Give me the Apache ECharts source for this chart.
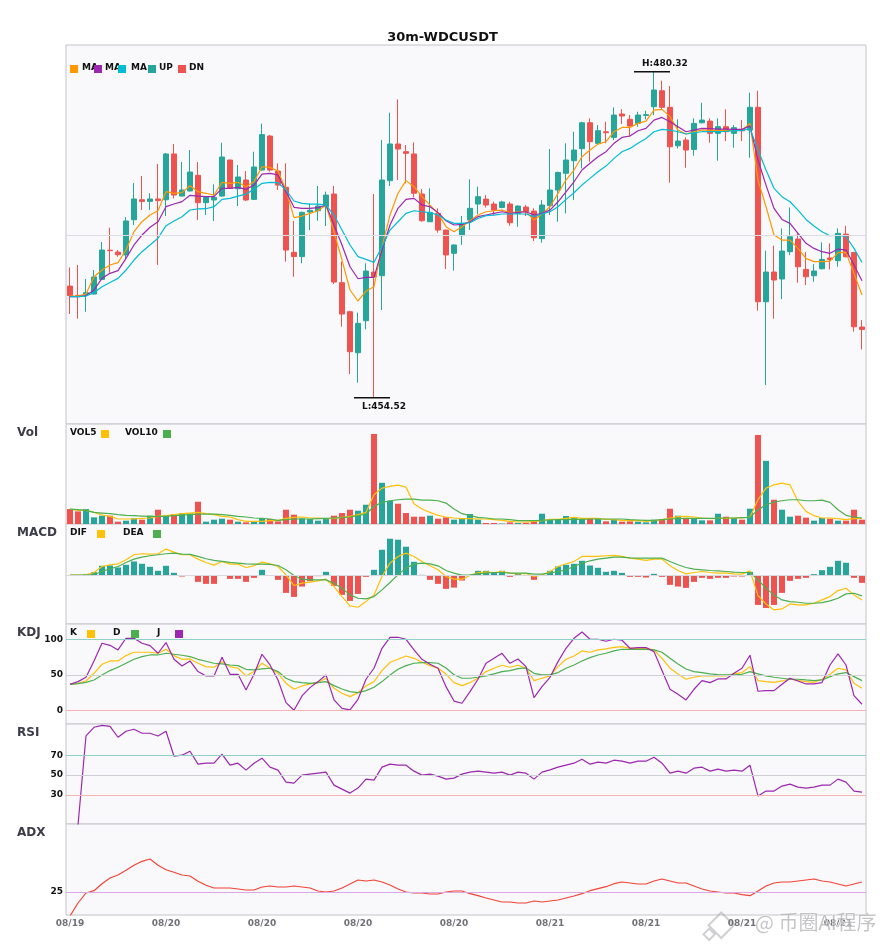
<!DOCTYPE html>
<html>
<head>
<meta charset="utf-8">
<title>30m-WDCUSDT</title>
<script src="https://cdn.jsdelivr.net/npm/echarts@6/dist/echarts.min.js"></script>
<style>
  html, body { margin: 0; padding: 0; background: #fff; }
  #main { width: 885px; height: 950px; }
</style>
</head>
<body>
<div id="main"></div>
<script>
// 30m candles, 100 bars
var open = [463.36, 462.62, 462.68, 462.73, 463.89, 466.20, 466.05, 465.82, 468.61, 470.19,
  470.06, 470.25, 470.19, 473.81, 470.48, 470.88, 472.12, 469.96, 470.17, 470.48,
  473.33, 471.06, 471.75, 470.22, 472.54, 475.23, 472.46, 471.17, 466.03, 465.69,
  469.22, 469.32, 469.64, 470.64, 463.63, 461.33, 458.09, 460.62, 464.47, 464.18,
  471.70, 474.60, 473.99, 473.81, 470.64, 468.45, 469.11, 467.79, 465.95, 467.35,
  468.58, 469.85, 470.24, 469.85, 469.58, 469.85, 469.11, 469.61, 469.29, 467.11,
  469.72, 470.96, 472.28, 473.28, 474.23, 476.28, 474.65, 475.57, 475.12, 476.97,
  476.55, 476.23, 476.86, 477.55, 478.81, 477.50, 474.46, 474.91, 474.17, 476.28,
  476.41, 475.44, 475.97, 475.44, 475.75, 475.70, 477.50, 462.12, 464.47, 463.92,
  466.08, 467.08, 464.68, 464.18, 464.73, 465.58, 465.37, 467.47, 466.02, 460.12];
var close = [462.60, 462.58, 462.84, 464.08, 466.21, 466.16, 465.84, 468.51, 470.25, 470.06,
  470.25, 470.12, 473.81, 470.56, 470.96, 472.38, 469.96, 470.38, 470.38, 473.57,
  471.09, 471.99, 470.17, 472.78, 475.34, 472.54, 471.35, 466.21, 465.69, 469.19,
  469.35, 469.69, 470.56, 463.68, 461.15, 458.17, 460.41, 464.55, 464.10, 471.75,
  474.60, 474.20, 473.86, 470.70, 468.53, 469.19, 467.79, 465.82, 466.61, 468.32,
  469.51, 470.43, 469.77, 469.37, 470.01, 468.37, 469.69, 469.24, 467.18, 469.77,
  470.96, 472.35, 473.33, 474.12, 476.28, 474.78, 475.65, 475.49, 476.89, 476.81,
  476.02, 476.89, 476.92, 478.87, 477.50, 474.38, 474.83, 474.12, 476.23, 476.49,
  475.44, 475.97, 475.57, 475.89, 475.65, 477.50, 462.12, 464.47, 463.84, 466.13,
  467.26, 464.89, 464.10, 464.55, 465.47, 465.47, 467.53, 465.68, 460.14, 459.93];
var high = [464.84, 465.03, 463.92, 464.63, 466.85, 467.98, 466.21, 468.82, 471.51, 472.07,
  470.70, 473.02, 473.89, 474.60, 473.17, 474.12, 473.17, 470.43, 471.41, 474.70,
  473.35, 472.94, 472.46, 473.99, 476.21, 475.31, 473.07, 473.07, 468.51, 469.25,
  469.90, 471.28, 470.83, 471.28, 465.29, 461.41, 461.26, 465.16, 470.64, 474.91,
  477.08, 478.13, 474.52, 474.73, 471.04, 471.09, 469.51, 467.82, 466.65, 468.90,
  471.80, 471.22, 470.56, 470.03, 470.11, 470.03, 469.74, 469.77, 469.51, 470.16,
  474.20, 472.41, 474.65, 475.57, 476.36, 476.63, 476.10, 476.36, 477.50, 477.36,
  476.89, 477.15, 477.23, 480.32, 479.61, 479.18, 476.55, 475.12, 476.63, 477.86,
  476.63, 476.63, 477.34, 476.10, 476.49, 478.66, 478.81, 466.16, 466.55, 467.92,
  469.58, 467.53, 466.05, 465.10, 466.82, 466.74, 467.92, 468.13, 466.05, 460.67];
var low = [461.15, 460.78, 461.33, 462.70, 463.85, 464.42, 465.68, 465.42, 468.19, 469.38,
  469.38, 465.03, 468.90, 470.30, 470.45, 470.85, 468.59, 468.98, 468.51, 470.45,
  471.04, 469.69, 470.09, 470.17, 472.49, 472.41, 470.96, 465.29, 464.10, 465.16,
  467.79, 468.53, 468.11, 463.52, 460.15, 456.40, 455.72, 459.94, 454.52, 461.47,
  471.28, 471.75, 471.49, 470.38, 468.45, 468.43, 467.58, 464.71, 464.58, 466.61,
  467.79, 469.06, 469.58, 468.98, 469.51, 468.13, 468.05, 468.90, 466.92, 466.79,
  468.98, 468.45, 469.11, 470.16, 472.67, 473.20, 474.52, 474.65, 474.91, 476.18,
  475.17, 475.97, 476.55, 476.89, 477.28, 471.54, 474.25, 472.72, 473.67, 476.23,
  474.70, 473.28, 474.83, 474.30, 474.83, 473.51, 461.41, 455.53, 460.78, 462.33,
  465.81, 463.63, 463.44, 463.70, 464.68, 464.68, 464.89, 465.63, 459.75, 458.35];

var maFast = [462.57, 462.57, 462.73, 464.10, 464.63, 465.03, 465.21, 466.21, 467.66, 468.45,
  468.98, 469.32, 470.83, 470.70, 470.75, 471.30, 470.83, 470.70, 470.56, 471.57,
  471.49, 471.57, 471.22, 471.62, 472.80, 472.75, 472.46, 470.96, 468.77, 468.90,
  469.11, 469.32, 469.77, 467.66, 465.42, 463.05, 462.18, 462.97, 463.31, 466.48,
  468.98, 470.70, 471.70, 471.22, 470.43, 469.77, 469.11, 468.06, 467.66, 468.06,
  468.53, 468.98, 469.24, 469.32, 469.37, 469.16, 469.24, 469.24, 468.58, 469.06,
  469.64, 470.69, 471.75, 472.54, 473.59, 474.12, 474.59, 474.78, 475.57, 475.91,
  475.91, 476.23, 476.41, 477.28, 477.34, 476.76, 475.70, 475.39, 475.57, 475.70,
  475.70, 475.65, 475.70, 475.65, 475.70, 476.23, 471.75, 469.64, 467.40, 467.00,
  467.00, 466.34, 465.55, 465.29, 465.29, 465.34, 466.00, 466.02, 464.36, 462.65];
var maMid = [462.52, 462.52, 462.60, 463.05, 463.97, 464.37, 464.58, 465.55, 466.61, 467.40,
  468.01, 468.45, 469.64, 469.85, 470.04, 470.54, 470.48, 470.43, 470.43, 471.09,
  471.09, 471.17, 471.01, 471.35, 472.22, 472.28, 472.15, 470.83, 469.59, 469.51,
  469.51, 469.56, 469.77, 468.19, 466.61, 464.89, 463.94, 464.05, 464.05, 466.21,
  468.19, 469.51, 470.22, 470.30, 469.77, 469.64, 469.17, 468.53, 468.19, 468.24,
  468.45, 468.85, 468.98, 469.11, 469.24, 469.11, 469.19, 469.24, 468.98, 469.11,
  469.37, 470.03, 470.82, 471.61, 472.54, 473.07, 473.59, 473.99, 474.65, 475.12,
  475.23, 475.65, 475.83, 476.49, 476.70, 476.36, 475.97, 475.57, 475.70, 475.83,
  475.81, 475.78, 475.78, 475.76, 475.76, 476.02, 473.33, 471.35, 469.51, 468.63,
  468.32, 467.53, 466.74, 466.34, 466.08, 465.95, 466.29, 466.21, 465.02, 463.78];
var maSlow = [462.52, 462.52, 462.57, 462.84, 463.31, 463.65, 463.97, 464.63, 465.42, 466.08,
  466.61, 467.14, 468.14, 468.51, 468.85, 469.38, 469.46, 469.48, 469.64, 470.22,
  470.30, 470.48, 470.64, 471.01, 471.49, 471.57, 471.54, 470.96, 470.09, 469.90,
  469.85, 469.85, 469.77, 468.98, 467.79, 466.61, 465.69, 465.47, 465.24, 466.48,
  467.79, 468.45, 469.11, 469.32, 469.24, 469.17, 468.98, 468.59, 468.32, 468.32,
  468.37, 468.71, 468.93, 468.98, 469.06, 469.06, 469.06, 469.06, 468.85, 469.06,
  469.24, 469.64, 470.22, 470.74, 471.35, 471.88, 472.41, 472.85, 473.46, 473.99,
  474.25, 474.65, 475.04, 475.57, 475.76, 475.70, 475.57, 475.39, 475.49, 475.57,
  475.57, 475.57, 475.60, 475.65, 475.65, 475.83, 474.12, 472.54, 471.09, 470.43,
  470.03, 469.37, 468.63, 468.11, 467.66, 467.34, 467.40, 467.26, 466.34, 465.23];

var vol = [45, 38, 45, 20, 25, 25, 7, 10, 17, 13, 25, 43, 26, 30, 33, 32, 67, 7, 13, 16,
  13, 7, 5, 8, 17, 15, 8, 43, 28, 17, 15, 10, 15, 25, 33, 43, 40, 58, 271, 124,
  70, 61, 33, 22, 22, 25, 16, 20, 13, 17, 30, 13, 3, 3, 1, 5, 3, 4, 8, 31,
  15, 15, 24, 19, 15, 15, 18, 8, 13, 7, 8, 7, 5, 13, 15, 46, 25, 18, 16, 11,
  11, 31, 22, 18, 13, 46, 268, 190, 73, 43, 22, 25, 19, 10, 18, 16, 10, 10, 43, 13];
var vol5 = [45, 41, 41, 35, 27, 23, 15, 15, 15, 17, 18, 23, 25, 28, 31, 33, 35, 31, 28, 23,
  21, 13, 8, 8, 8, 10, 10, 17, 20, 21, 18, 18, 16, 17, 20, 23, 28, 35, 88, 108,
  113, 117, 111, 61, 45, 35, 26, 21, 18, 16, 16, 15, 15, 13, 11, 8, 6, 6, 8, 10,
  14, 14, 17, 20, 17, 17, 17, 14, 13, 11, 10, 10, 8, 10, 13, 18, 22, 23, 21, 18,
  16, 17, 17, 18, 18, 21, 73, 108, 118, 123, 118, 68, 38, 25, 18, 18, 16, 13, 16, 17];
var vol10 = [45, 43, 41, 35, 33, 31, 28, 26, 25, 24, 23, 23, 23, 25, 27, 28, 30, 30, 30, 28,
  26, 23, 21, 18, 17, 15, 11, 13, 15, 15, 15, 16, 17, 18, 19, 21, 25, 30, 53, 65,
  70, 73, 75, 75, 72, 72, 70, 63, 45, 31, 25, 20, 18, 15, 15, 13, 10, 10, 10, 11,
  12, 13, 13, 14, 14, 15, 15, 15, 15, 15, 13, 12, 11, 11, 13, 15, 16, 17, 17, 17,
  17, 17, 18, 18, 19, 20, 43, 58, 66, 70, 73, 73, 70, 70, 72, 65, 43, 26, 21, 18];

var dif = [0, 0, 1, 8, 26, 31, 34, 46, 61, 64, 63, 64, 78, 69, 61, 61, 48, 38, 30, 41,
  33, 33, 23, 28, 39, 34, 26, 1, -31, -24, -21, -17, -12, -34, -64, -92, -96, -79, -59, -4,
  36, 56, 66, 56, 41, 28, 16, -4, -12, -12, -1, 8, 10, 8, 11, 6, 4, 5, -4, 1,
  11, 26, 34, 41, 56, 56, 56, 58, 59, 56, 51, 48, 44, 48, 48, 28, 14, 4, 8, 11,
  8, 6, 6, 4, 3, 13, -61, -86, -104, -101, -86, -89, -89, -84, -74, -64, -46, -39, -59, -74];
var dea = [0, 0, 0, 2, 11, 19, 26, 38, 48, 54, 58, 61, 64, 66, 63, 62, 56, 49, 44, 41,
  38, 36, 34, 33, 33, 32, 29, 16, -1, -12, -14, -14, -14, -24, -39, -59, -69, -71, -64, -44,
  -22, 1, 21, 33, 36, 34, 28, 14, 6, 0, 1, 4, 6, 8, 8, 6, 6, 6, 3, 3,
  6, 11, 16, 26, 36, 43, 48, 51, 54, 54, 52, 51, 51, 51, 51, 41, 31, 23, 18, 16,
  14, 13, 11, 9, 8, 8, -14, -39, -59, -74, -79, -81, -84, -84, -82, -77, -69, -56, -54, -62];
var macdHist = [0, 0, 3, 9, 28, 29, 23, 31, 41, 34, 25, 13, 28, 7, -4, -2, -20, -26, -26, -2,
  -11, -11, -20, -8, 16, -1, -14, -53, -65, -34, -18, -3, 10, -32, -59, -77, -56, -5, 16, 76,
  109, 106, 85, 40, 1, -14, -26, -41, -37, -16, 0, 13, 13, 8, 13, -5, 4, -2, -14, 0,
  13, 26, 31, 34, 43, 29, 22, 10, 13, 7, -5, -5, -7, 4, -5, -29, -34, -38, -20, -8,
  -11, -8, -8, -4, -4, 10, -89, -98, -89, -53, -17, -11, -8, 3, 15, 25, 43, 37, -8, -23];

var kLine = [36.6, 38.0, 41.3, 52.1, 64.8, 69.5, 69.5, 77.0, 81.7, 81.7, 81.7, 80.3, 85.9, 77.0, 71.8, 72.3, 66.2, 61.5, 60.6, 68.5,
  61.5, 59.2, 48.4, 54.5, 66.2, 59.2, 52.1, 38.0, 29.6, 34.3, 37.1, 39.0, 45.1, 31.0, 23.9, 19.2, 24.9, 34.3, 40.4, 55.9,
  67.6, 71.8, 76.5, 73.2, 67.6, 62.9, 59.2, 51.0, 39.0, 34.7, 39.0, 45.1, 54.5, 59.2, 63.4, 60.6, 63.4, 59.2, 41.8, 45.1,
  48.4, 61.5, 71.8, 76.5, 83.6, 81.7, 85.0, 86.4, 88.7, 89.7, 87.3, 87.3, 87.3, 85.0, 73.2, 59.2, 51.2, 43.7, 46.5, 48.4,
  48.8, 48.4, 48.4, 51.2, 53.1, 61.5, 41.8, 40.4, 39.4, 41.3, 44.1, 41.8, 40.4, 39.4, 43.7, 50.7, 59.2, 56.8, 38.0, 31.0];
var dLine = [36.6, 37.6, 39.4, 42.7, 49.8, 55.9, 60.6, 66.2, 71.8, 75.6, 77.9, 77.9, 80.3, 78.9, 77.5, 75.6, 71.8, 69.0, 66.2, 65.3,
  63.8, 62.9, 57.7, 56.8, 58.2, 59.2, 54.5, 45.1, 40.4, 39.0, 38.0, 39.0, 40.4, 34.7, 30.0, 26.3, 24.9, 27.7, 32.4, 40.4,
  49.8, 57.7, 62.9, 66.2, 67.1, 67.1, 66.2, 59.6, 50.0, 45.1, 45.1, 46.5, 48.4, 51.2, 54.5, 55.9, 58.7, 59.6, 52.1, 49.8,
  49.8, 53.1, 59.2, 63.8, 69.5, 74.2, 77.9, 80.3, 83.6, 85.9, 85.9, 85.9, 85.9, 85.0, 81.7, 73.2, 65.3, 58.2, 54.5, 53.1,
  51.2, 50.2, 49.8, 49.8, 50.7, 54.5, 51.2, 48.4, 46.5, 45.1, 43.7, 43.7, 42.7, 41.8, 42.7, 47.4, 51.2, 53.1, 47.4, 41.8];
var jLine = [36.6, 40.4, 46.5, 69.5, 94.4, 91.5, 85.0, 101.4, 101.4, 94.4, 91.1, 80.3, 95.3, 71.8, 62.4, 69.5, 54.5, 48.4, 48.4, 74.6,
  50.7, 50.7, 28.6, 50.7, 78.9, 63.8, 42.7, 10.8, 0, 20.2, 31.9, 40.4, 49.8, 14.6, 2.8, 0.5, 15.5, 43.7, 59.2, 87.3,
  102.8, 102.8, 100, 85.0, 71.8, 64.8, 59.2, 33.3, 13.0, 9.9, 26.3, 43.7, 66.2, 73.2, 80.3, 66.2, 72.3, 61.5, 17.8, 33.3,
  46.5, 68.5, 87.3, 101.4, 110.3, 100, 100, 97.2, 100, 98.6, 87.3, 88.3, 88.3, 82.6, 55.9, 29.6, 22.5, 14.6, 29.6, 41.8,
  39.0, 44.1, 44.1, 52.1, 59.2, 77.5, 26.8, 27.7, 27.7, 36.6, 45.1, 41.3, 37.1, 37.1, 39.0, 63.8, 79.3, 63.8, 20.7, 8.5];

var rsi = [null, 0, 89.3, 98, 100, 99, 88, 94, 96, 92, 92, 89.3, 94, 69, 70, 74, 61, 62, 62, 71,
  60, 62, 55, 62, 67, 58, 55, 43, 42, 50, 51, 52, 53, 40, 36, 32, 37, 46, 45, 58,
  61, 60, 60, 54, 50, 51, 49, 46, 47, 51, 53, 54, 53, 52, 53, 50, 53, 52, 46, 53,
  55.3, 58, 60, 62, 66, 61, 63, 62, 65, 64, 62, 64, 64, 68, 62, 52, 54, 52, 57, 58,
  54, 56, 54, 55, 54, 60, 29, 34, 34, 39, 41, 38, 37, 38, 40, 40, 46, 43, 34, 33];
var adx = [1, 14, 24, 26.3, 33.3, 39, 42, 46.7, 51.7, 55.7, 58, 51.7, 47.3, 44.7, 42, 41, 35.7, 31.7, 29, 29,
  29, 28, 27, 27, 30, 31, 30, 30, 31, 30, 29, 26, 25, 26, 29, 33, 37, 36, 37, 35,
  32, 28, 25, 24, 24, 23, 23, 25, 26, 26, 23.3, 21.3, 19, 17, 15, 15, 14, 14, 16, 15,
  16, 17, 19, 21, 23.3, 26.3, 28.3, 30.3, 33.3, 35, 34, 33, 33, 36, 38, 36, 34, 34, 31, 28,
  26, 25, 24, 24, 22.3, 21.3, 26, 31, 34, 35, 35, 36, 37, 38, 36, 35, 33, 31, 33, 35];

var kdjTicks = [0, 50, 100];
var rsiTicks = [30, 50, 70];
var adxTicks = [25];

var UP = '#26A69A', DN = '#EF5350';
var YEL = '#FFC107', GRN = '#4CAF50', PUR = '#9C27B0';
var FONT = 'DejaVu Sans';

// time axis: one bar every 30 minutes
var categories = [];
var t0 = new Date(2025, 7, 19, 18, 0).getTime();
for (var i = 0; i < open.length; i++) {
  var d = new Date(t0 + i * 30 * 60000);
  var p = function (n) { return (n < 10 ? '0' : '') + n; };
  categories.push(p(d.getMonth() + 1) + '/' + p(d.getDate()) + ' ' + p(d.getHours()) + ':' + p(d.getMinutes()));
}

var panelTops = [45, 424, 524, 624, 724, 824];
var panelHeights = [379, 100, 100, 100, 100, 91];

function makeGrid(top, height) {
  return {
    left: 66, width: 800, top: top, height: height,
    show: true, backgroundColor: '#f9f9fb', borderColor: '#c4c4ca', borderWidth: 1
  };
}

function makeX(idx, showLabel) {
  return {
    type: 'category', gridIndex: idx, data: categories, boundaryGap: true,
    axisLine: { show: false }, axisTick: { show: false }, splitLine: { show: false },
    axisLabel: {
      show: showLabel, interval: 11, margin: 4,
      color: '#707078', fontSize: 9, fontWeight: 'bold', fontFamily: FONT,
      formatter: function (v) { return v.slice(0, 5); }
    }
  };
}

function makeY(idx, min, max, ticks) {
  var y = {
    type: 'value', gridIndex: idx, min: min, max: max,
    axisLine: { show: false }, axisTick: { show: false }, splitLine: { show: false },
    axisLabel: { show: false }
  };
  if (ticks) {
    y.axisLabel = {
      show: true, customValues: ticks, margin: 3,
      color: '#111', fontSize: 9, fontWeight: 'bold', fontFamily: FONT
    };
  }
  return y;
}

function line(name, data, color, xi, width) {
  return {
    name: name, type: 'line', xAxisIndex: xi, yAxisIndex: xi, data: data,
    symbol: 'none', smooth: false, clip: true,
    lineStyle: { color: color, width: width || 1.2 }, itemStyle: { color: color },
    z: 3
  };
}

function guides(list) {
  return {
    silent: true, symbol: 'none', label: { show: false },
    data: list.map(function (g) {
      return { yAxis: g[0], lineStyle: { color: g[1], width: 1, type: 'solid' } };
    })
  };
}

var candleData = open.map(function (o, i) { return [o, close[i], low[i], high[i]]; });
var volData = vol.map(function (v, i) {
  return { value: v, itemStyle: { color: close[i] >= open[i] ? UP : DN } };
});
var histData = macdHist.map(function (v) {
  return { value: v, itemStyle: { color: v >= 0 ? UP : DN } };
});

var maLine1 = line('MA5', maFast, '#FF9800', 0);
maLine1.markLine = guides([[467.4, '#dcdce4']]);
var macdDif = line('DIF', dif, YEL, 2);
macdDif.markLine = guides([[0, '#d8d8de']]);
var kLineS = line('K', kLine, YEL, 3);
kLineS.markLine = guides([[100, '#8fd0c8'], [50, '#cfcfd6'], [0, '#f5b3b3']]);
var rsiS = line('RSI', rsi, PUR, 4);
rsiS.markLine = guides([[70, '#8fd0c8'], [50, '#cfcfd6'], [30, '#f5b3b3']]);
var adxS = line('ADX', adx, '#F44336', 5);
adxS.markLine = guides([[25, '#dba8e4']]);

function legendItems(y, items) {
  var out = [];
  items.forEach(function (it) {
    if (it.text) {
      out.push({ type: 'text', left: it.x, top: y - 6, z: 10,
        style: { text: it.text, fill: '#111', font: 'bold 9px ' + FONT } });
    }
    if (it.color) {
      out.push({ type: 'rect', left: it.sq, top: y - 4, z: 11,
        shape: { width: 8, height: 8 }, style: { fill: it.color } });
    }
  });
  return out;
}

function panelLabel(text, y) {
  return { type: 'text', left: 17, top: y - 8, z: 10,
    style: { text: text, fill: '#3c3c4a', font: 'bold 12px ' + FONT } };
}

// watermark logo: small diamond outline
var wmark = {
  type: 'group', left: 700, top: 909, z: 20,
  children: [
    { type: 'rect', x: 13, y: 0, rotation: Math.PI / 4, origin: [13, 0],
      shape: { width: 18, height: 18 },
      style: { fill: 'none', stroke: 'rgba(170,170,175,0.55)', lineWidth: 2 } },
    { type: 'rect', x: 13, y: 7, rotation: Math.PI / 4, origin: [13, 7],
      shape: { width: 8, height: 8 },
      style: { fill: 'none', stroke: 'rgba(170,170,175,0.55)', lineWidth: 2 } }
  ]
};

var graphics = [].concat(
  legendItems(69, [
    { sq: 70, color: '#FF9800' }, { x: 82, text: 'MA' },
    { sq: 94, color: PUR }, { x: 105, text: 'MA' },
    { sq: 118, color: '#00BCD4' }, { x: 131, text: 'MA' },
    { sq: 148, color: UP }, { x: 159, text: 'UP' },
    { sq: 178, color: DN }, { x: 189, text: 'DN' }
  ]),
  legendItems(434, [
    { x: 70, text: 'VOL5' }, { sq: 101, color: YEL },
    { x: 125, text: 'VOL10' }, { sq: 163, color: GRN }
  ]),
  legendItems(534, [
    { x: 70, text: 'DIF' }, { sq: 97, color: YEL },
    { x: 123, text: 'DEA' }, { sq: 153, color: GRN }
  ]),
  legendItems(634, [
    { x: 70, text: 'K' }, { sq: 87, color: YEL },
    { x: 113, text: 'D' }, { sq: 131, color: GRN },
    { x: 157, text: 'J' }, { sq: 175, color: PUR }
  ]),
  [
    panelLabel('Vol', 435), panelLabel('MACD', 535), panelLabel('KDJ', 635),
    panelLabel('RSI', 735), panelLabel('ADX', 835),
    wmark,
    { type: 'text', right: 8, top: 912, z: 20,
      style: { text: '@ 币圈AI程序', fill: 'rgba(150,150,155,0.55)',
        font: '20px "Noto Sans CJK SC"', stroke: 'rgba(255,255,255,0.7)', lineWidth: 1 } }
  ]
);

var option = {
  animation: false,
  backgroundColor: '#ffffff',
  title: {
    text: '30m-WDCUSDT', left: 'center', top: 26,
    textStyle: { fontSize: 13, fontWeight: 'bold', color: '#111', fontFamily: FONT }
  },
  grid: panelTops.map(function (t, i) { return makeGrid(t, panelHeights[i]); }),
  xAxis: [makeX(0, false), makeX(1, false), makeX(2, false), makeX(3, false), makeX(4, false), makeX(5, true)],
  yAxis: [
    makeY(0, 452.45, 482.43),
    makeY(1, 0, 301),
    makeY(2, -146, 153),
    makeY(3, -19.3, 121.5, kdjTicks),
    makeY(4, 1, 101.3, rsiTicks),
    makeY(5, 2, 93, adxTicks)
  ],
  graphic: graphics,
  series: [
    {
      name: 'K线', type: 'candlestick', xAxisIndex: 0, yAxisIndex: 0, data: candleData,
      barWidth: 6,
      itemStyle: { color: UP, color0: DN, borderColor: UP, borderColor0: DN, borderWidth: 1 },
      z: 2
    },
    maLine1,
    line('MA10', maMid, PUR, 0),
    line('MA20', maSlow, '#00BCD4', 0),
    { name: 'Vol', type: 'bar', xAxisIndex: 1, yAxisIndex: 1, data: volData, barWidth: 6 },
    line('VOL5', vol5, YEL, 1),
    line('VOL10', vol10, GRN, 1),
    { name: 'MACD', type: 'bar', xAxisIndex: 2, yAxisIndex: 2, data: histData, barWidth: 6 },
    macdDif,
    line('DEA', dea, GRN, 2),
    kLineS,
    line('D', dLine, GRN, 3),
    line('J', jLine, PUR, 3),
    rsiS,
    adxS
  ]
};

var chart = echarts.init(document.getElementById('main'), null, { renderer: 'canvas' });
chart.setOption(option);

// high / low tags, placed from the data through the price scale
function hiLoTag(idx, value, isHigh) {
  var pt = chart.convertToPixel({ xAxisIndex: 0, yAxisIndex: 0 }, [idx, value]);
  var txt = (isHigh ? 'H:' : 'L:') + value.toFixed(2);
  return [
    { type: 'line', z: 12, shape: { x1: pt[0] - 20, y1: pt[1], x2: pt[0] + 16, y2: pt[1] },
      style: { stroke: '#111', lineWidth: 1.5 } },
    { type: 'text', z: 12, left: pt[0] - 12, top: isHigh ? pt[1] - 13 : pt[1] + 4,
      style: { text: txt, fill: '#111', font: 'bold 9px ' + FONT } }
  ];
}
var hiIdx = high.indexOf(Math.max.apply(null, high));
var loIdx = low.indexOf(Math.min.apply(null, low));
chart.setOption({
  graphic: graphics.concat(hiLoTag(hiIdx, high[hiIdx], true), hiLoTag(loIdx, low[loIdx], false))
});
</script>
</body>
</html>
